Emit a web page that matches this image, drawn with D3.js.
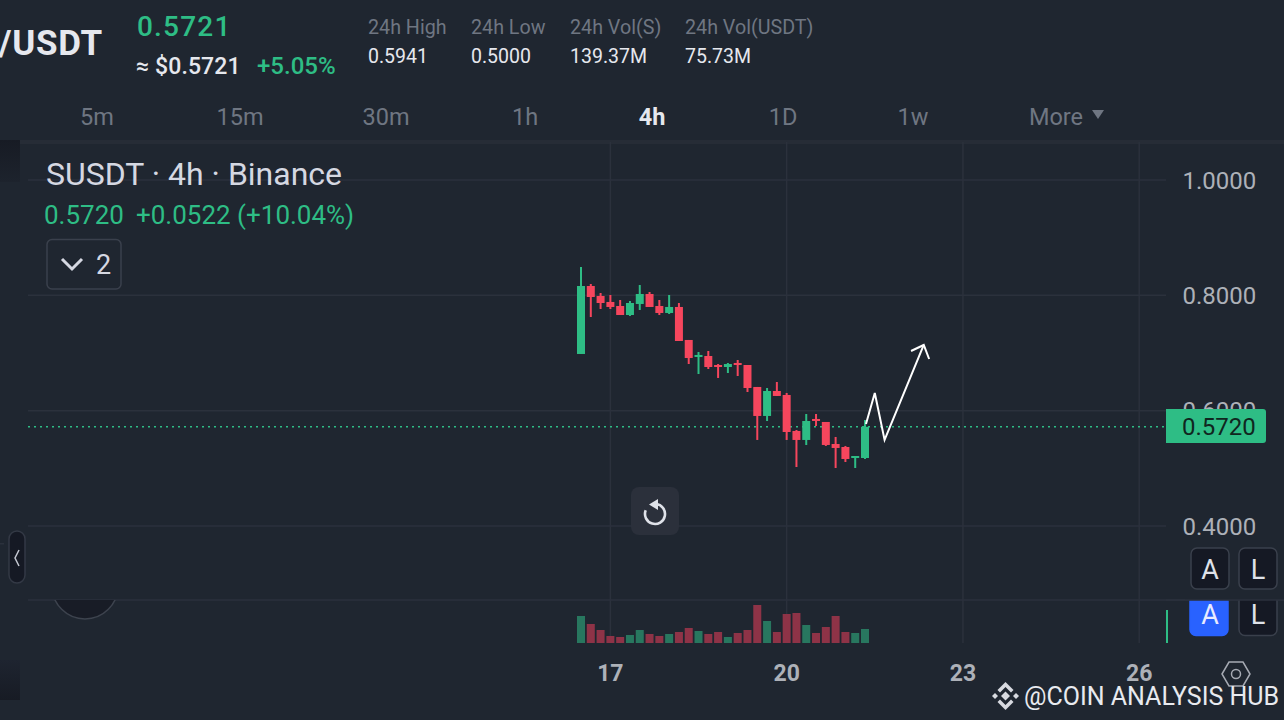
<!DOCTYPE html>
<html>
<head>
<meta charset="utf-8">
<style>
    html, body { margin: 0; padding: 0; background: #1f2630; overflow: hidden; }
    text { font-family: Roboto, sans-serif; }
</style>
<script src="https://cdn.jsdelivr.net/npm/d3@7"></script>
</head>
<body>
<div id="visualization"></div>
<script>
// candles
const opens = [.6983, .8162, .7989, .7885, .7815, .7659, .7850, .8023, .7815, .7694,
    .7798, .7226, .6931, .6948, .6792, .6757, .6827, .6792, .6411, .5908,
    .6341, .6272, .5648, .5492, .5856, .5804, .5422, .5370, .5179, .5179];
const highs = [.8491, .8197, .8041, .8006, .7919, .7902, .8179, .8058, .7919, .8006,
    .7867, .7226, .7017, .7035, .6809, .6827, .6879, .6792, .6411, .6393,
    .6497, .6307, .5665, .5942, .5942, .5804, .5544, .5388, .5214, .5839];
const lows = [.6983, .7624, .7763, .7763, .7659, .7642, .7746, .7798, .7659, .7676,
    .7208, .6809, .6636, .6723, .6567, .6653, .6601, .6324, .5492, .5821,
    .6255, .5492, .5023, .5405, .5734, .5388, .5006, .5110, .5006, .5162];
const closes = [.8162, .7971, .7867, .7798, .7659, .7867, .8023, .7798, .7694, .7798,
    .7208, .6913, .6966, .6757, .6757, .6809, .6792, .6393, .5908, .6341,
    .6255, .5630, .5492, .5821, .5821, .5405, .5353, .5162, .5214, .5720];
const volumes = [27, 19, 13, 7, 6, 8, 13, 9, 7, 9, 11, 15, 12, 9, 11, 6, 10, 13, 38, 22,
    11, 29, 30, 18, 10, 16, 27, 11, 10, 14];

const priceTicks = [1.0, 0.8, 0.6, 0.4];
const dayLabels = ["17", "20", "23", "26"];
const dayIndex = [3, 21, 39, 57];
const lastPrice = 0.5720;

// hand drawn arrow, candle index and price
const arrowIndex = [29.1, 30, 31, 35];
const arrowPrice = [.5770, .6307, .5492, .7139];
const arrowHeadIndex = [33.7, 35, 35.55];
const arrowHeadPrice = [.7035, .7139, .6896];

const intervals = ["5m", "15m", "30m", "1h", "4h", "1D", "1w", "More"];
const intervalX = [97, 240, 386, 525, 652, 783, 913, 1056];
const statLabels = ["24h High", "24h Low", "24h Vol(S)", "24h Vol(USDT)"];
const statValues = ["0.5941", "0.5000", "139.37M", "75.73M"];
const statX = [368, 471, 570, 685];

const green = "#2ebd85", red = "#f6465d";
const gridColor = "#2b313c";

const svg = d3.select("#visualization").append("svg")
    .attr("width", 1284)
    .attr("height", 720)
    .style("display", "block");

svg.append("rect").attr("width", 1284).attr("height", 720).attr("fill", "#1f2630");

const x = d3.scaleLinear().domain([0, 29]).range([581, 865]);
const y = d3.scaleLinear().domain([0.4, 1.0]).range([526, 180]);
const yVol = d3.scaleLinear().domain([0, 40]).range([643, 603]);

function label(px, py, str, size, color, weight, anchor) {
    return svg.append("text")
        .attr("x", px)
        .attr("y", py)
        .attr("font-size", size)
        .attr("font-weight", weight || 400)
        .attr("text-anchor", anchor || "start")
        .attr("fill", color)
        .text(str);
}

const defs = svg.append("defs");
function stripGradient(id, from, to) {
    const g = defs.append("linearGradient").attr("id", id)
        .attr("x1", 0).attr("x2", 0).attr("y1", 0).attr("y2", 1);
    g.append("stop").attr("offset", 0).attr("stop-color", from);
    g.append("stop").attr("offset", 1).attr("stop-color", to);
}
stripGradient("stripTop", "#171b24", "#1d232d");
stripGradient("stripBottom", "#1e2430", "#171b24");
defs.append("clipPath").attr("id", "belowPane")
    .append("rect").attr("x", 0).attr("y", 600).attr("width", 300).attr("height", 60);

// left edge strip and separator under the toolbar
svg.append("rect").attr("x", 0).attr("y", 140).attr("width", 20).attr("height", 42).attr("fill", "url(#stripTop)");
svg.append("rect").attr("x", 0).attr("y", 660).attr("width", 20).attr("height", 40).attr("fill", "url(#stripBottom)");
svg.append("rect").attr("x", 20).attr("y", 140).attr("width", 1264).attr("height", 4).attr("fill", "#262c36");

// grid
svg.append("g").selectAll("line")
    .data(dayIndex)
    .enter().append("line")
    .attr("x1", d => x(d)).attr("x2", d => x(d))
    .attr("y1", 142).attr("y2", 643)
    .attr("stroke", gridColor).attr("stroke-width", 1.5);

svg.append("g").selectAll("line")
    .data(priceTicks)
    .enter().append("line")
    .attr("x1", 28).attr("x2", 1166)
    .attr("y1", d => y(d)).attr("y2", d => y(d))
    .attr("stroke", gridColor).attr("stroke-width", 1.5);

svg.append("line")
    .attr("x1", 28).attr("x2", 1284).attr("y1", 600).attr("y2", 600)
    .attr("stroke", gridColor).attr("stroke-width", 1.5);

// half hidden round button behind the volume pane
svg.append("circle")
    .attr("cx", 85).attr("cy", 586).attr("r", 33)
    .attr("clip-path", "url(#belowPane)")
    .attr("fill", "#181c26")
    .attr("stroke", "#3d434e")
    .attr("stroke-width", 1.5);

// price labels
svg.append("g").selectAll("text")
    .data(priceTicks)
    .enter().append("text")
    .attr("x", 1182.5)
    .attr("y", d => y(d) + 8.5)
    .attr("font-size", 24)
    .attr("fill", "#adb1b8")
    .text(d => d.toFixed(4));

// volume bars
const data = d3.range(closes.length);
svg.append("g").selectAll("rect")
    .data(data)
    .enter().append("rect")
    .attr("x", i => x(i) - 4)
    .attr("y", i => yVol(volumes[i]))
    .attr("width", 8)
    .attr("height", i => yVol(0) - yVol(volumes[i]))
    .attr("fill", i => closes[i] >= opens[i] ? "#28775f" : "#8e3347");

// last volume tick at the right edge
svg.append("line")
    .attr("x1", 1167).attr("x2", 1167).attr("y1", 610).attr("y2", 643)
    .attr("stroke", green).attr("stroke-width", 2);

// last price line
svg.append("line")
    .attr("x1", 28).attr("x2", 1166)
    .attr("y1", y(lastPrice)).attr("y2", y(lastPrice))
    .attr("stroke", green).attr("stroke-width", 1.6).attr("stroke-dasharray", "2 4");

// candles
const candles = svg.append("g");
candles.selectAll("line")
    .data(data)
    .enter().append("line")
    .attr("x1", i => x(i)).attr("x2", i => x(i))
    .attr("y1", i => y(highs[i])).attr("y2", i => y(lows[i]))
    .attr("stroke", i => closes[i] >= opens[i] ? green : red)
    .attr("stroke-width", 2);
candles.selectAll("rect")
    .data(data)
    .enter().append("rect")
    .attr("x", i => x(i) - 4)
    .attr("y", i => y(Math.max(opens[i], closes[i])))
    .attr("width", 8)
    .attr("height", i => Math.max(2, Math.abs(y(opens[i]) - y(closes[i]))))
    .attr("fill", i => closes[i] >= opens[i] ? green : red);

// arrow
const line = d3.line().x(d => x(d[0])).y(d => y(d[1]));
svg.append("path")
    .attr("d", line(arrowIndex.map((d, i) => [d, arrowPrice[i]])))
    .attr("fill", "none").attr("stroke", "#fff").attr("stroke-width", 2);
svg.append("path")
    .attr("d", line(arrowHeadIndex.map((d, i) => [d, arrowHeadPrice[i]])))
    .attr("fill", "none").attr("stroke", "#fff").attr("stroke-width", 2);

// last price tag
svg.append("path")
    .attr("d", "M1166,409H1263a3,3 0 0 1 3,3V440a3,3 0 0 1 -3,3H1166Z")
    .attr("fill", green);
label(1182, 435, lastPrice.toFixed(4), 24, "#10261f");

// day labels
svg.append("g").selectAll("text")
    .data(dayLabels)
    .enter().append("text")
    .attr("x", (d, i) => x(dayIndex[i]))
    .attr("y", 681)
    .attr("text-anchor", "middle")
    .attr("font-size", 23)
    .attr("font-weight", 700)
    .attr("fill", "#adb1b8")
    .text(d => d);

// header
label(103, 55, "/USDT", 35, "#e6e8ee", 700, "end").attr("letter-spacing", 0.7);
label(137, 36, "0.5721", 28, green, 500).attr("letter-spacing", 1.2);
label(136, 74, "≈ $0.5721", 23, "#e6e8ee", 500).attr("letter-spacing", 0.1);
label(257, 74, "+5.05%", 24, green, 500);

statLabels.forEach((d, i) => {
    label(statX[i], 34, d, 19.7, "#6f7682");
    label(statX[i], 63, statValues[i], 19.5, "#e6e8ee");
});

intervals.forEach((d, i) => {
    const active = d === "4h";
    label(intervalX[i], 125, d, 23.5, active ? "#e6e8ee" : "#6f7682", active ? 700 : 400, "middle");
});
svg.append("path").attr("d", "M1092,110H1104L1098,119Z").attr("fill", "#6f7682");

// legend
label(46, 185, "SUSDT · 4h · Binance", 32, "#d5d8e2");
label(44, 224, "0.5720", 26, green);
label(136, 224, "+0.0522 (+10.04%)", 26, green);
svg.append("rect")
    .attr("x", 47).attr("y", 239.5).attr("width", 74).attr("height", 49.5).attr("rx", 5)
    .attr("fill", "none").attr("stroke", "#3a404c").attr("stroke-width", 1.5);
svg.append("path")
    .attr("d", "M62,259L72,269L82,259")
    .attr("fill", "none").attr("stroke", "#d5d8e2").attr("stroke-width", 3);
label(96, 274, "2", 27, "#d5d8e2");

// side handle
svg.append("rect")
    .attr("x", 9).attr("y", 531).attr("width", 16).attr("height", 52).attr("rx", 8)
    .attr("fill", "#151924").attr("stroke", "#333945").attr("stroke-width", 1.5);
svg.append("path")
    .attr("d", "M19,550L15,558L19,566")
    .attr("fill", "none").attr("stroke", "#c4c8d2").attr("stroke-width", 1.5);
svg.append("rect").attr("x", 0).attr("y", 543).attr("width", 4).attr("height", 1.5).attr("fill", gridColor);

// reset button
svg.append("rect")
    .attr("x", 631).attr("y", 487).attr("width", 48).attr("height", 48).attr("rx", 8)
    .attr("fill", "#2b303b");
svg.append("path")
    .attr("d", d3.arc()({ innerRadius: 8.7, outerRadius: 11.3, startAngle: 0.1, endAngle: Math.PI * 1.62 }))
    .attr("transform", "translate(655,514)")
    .attr("fill", "#dfe2e9");
svg.append("path").attr("d", "M658,499V510L649,504.5Z").attr("fill", "#dfe2e9");

// A / L buttons
function scaleButton(px, py, h, str, fill, stroke) {
    svg.append("rect")
        .attr("x", px).attr("y", py).attr("width", 38).attr("height", h).attr("rx", 6)
        .attr("fill", fill).attr("stroke", stroke).attr("stroke-width", 1.5);
}
scaleButton(1191, 548, 41, "A", "#151924", "#3a404c");
scaleButton(1239, 548, 41, "L", "#151924", "#3a404c");
scaleButton(1190, 595, 40.5, "A", "#2962ff", "#2962ff");
scaleButton(1239, 595, 40.5, "L", "#151924", "#3a404c");
// the lower buttons have flat tops at the pane line
svg.append("rect").attr("x", 1185).attr("y", 590).attr("width", 99).attr("height", 10).attr("fill", "#1f2630");
svg.append("line").attr("x1", 1166).attr("x2", 1284).attr("y1", 600).attr("y2", 600)
    .attr("stroke", gridColor).attr("stroke-width", 1.5);
label(1210, 579, "A", 27, "#dfe2e9", 400, "middle");
label(1258, 579, "L", 27, "#dfe2e9", 400, "middle");
label(1210, 624, "A", 27, "#e8ebff", 400, "middle");
label(1258, 624, "L", 27, "#dfe2e9", 400, "middle");

// settings hexagon
svg.append("path")
    .attr("d", "M1222,674L1229,662H1243L1250,674L1243,686H1229Z")
    .attr("fill", "none").attr("stroke", "#a6aab3").attr("stroke-width", 1.5);
svg.append("circle").attr("cx", 1236).attr("cy", 674).attr("r", 4.5)
    .attr("fill", "none").attr("stroke", "#a6aab3").attr("stroke-width", 1.5);

// watermark logo
const mark = svg.append("g").attr("fill", "#d8dae0").attr("transform", "translate(1005.5,696)");
mark.append("path").attr("d", "M0,-4.5L4.5,0L0,4.5L-4.5,0Z");
mark.append("path").attr("d", "M-13.5,0L-10.5,-3L-7.5,0L-10.5,3Z");
mark.append("path").attr("d", "M13.5,0L10.5,-3L7.5,0L10.5,3Z");
mark.append("path").attr("d", "M0,-14L8,-6L5.5,-3.5L0,-9L-5.5,-3.5L-8,-6Z");
mark.append("path").attr("d", "M0,14L8,6L5.5,3.5L0,9L-5.5,3.5L-8,6Z");
label(1024, 705, "@COIN ANALYSIS HUB", 25, "#e8eaef").attr("font-family", "Noto Sans");
</script>
</body>
</html>
